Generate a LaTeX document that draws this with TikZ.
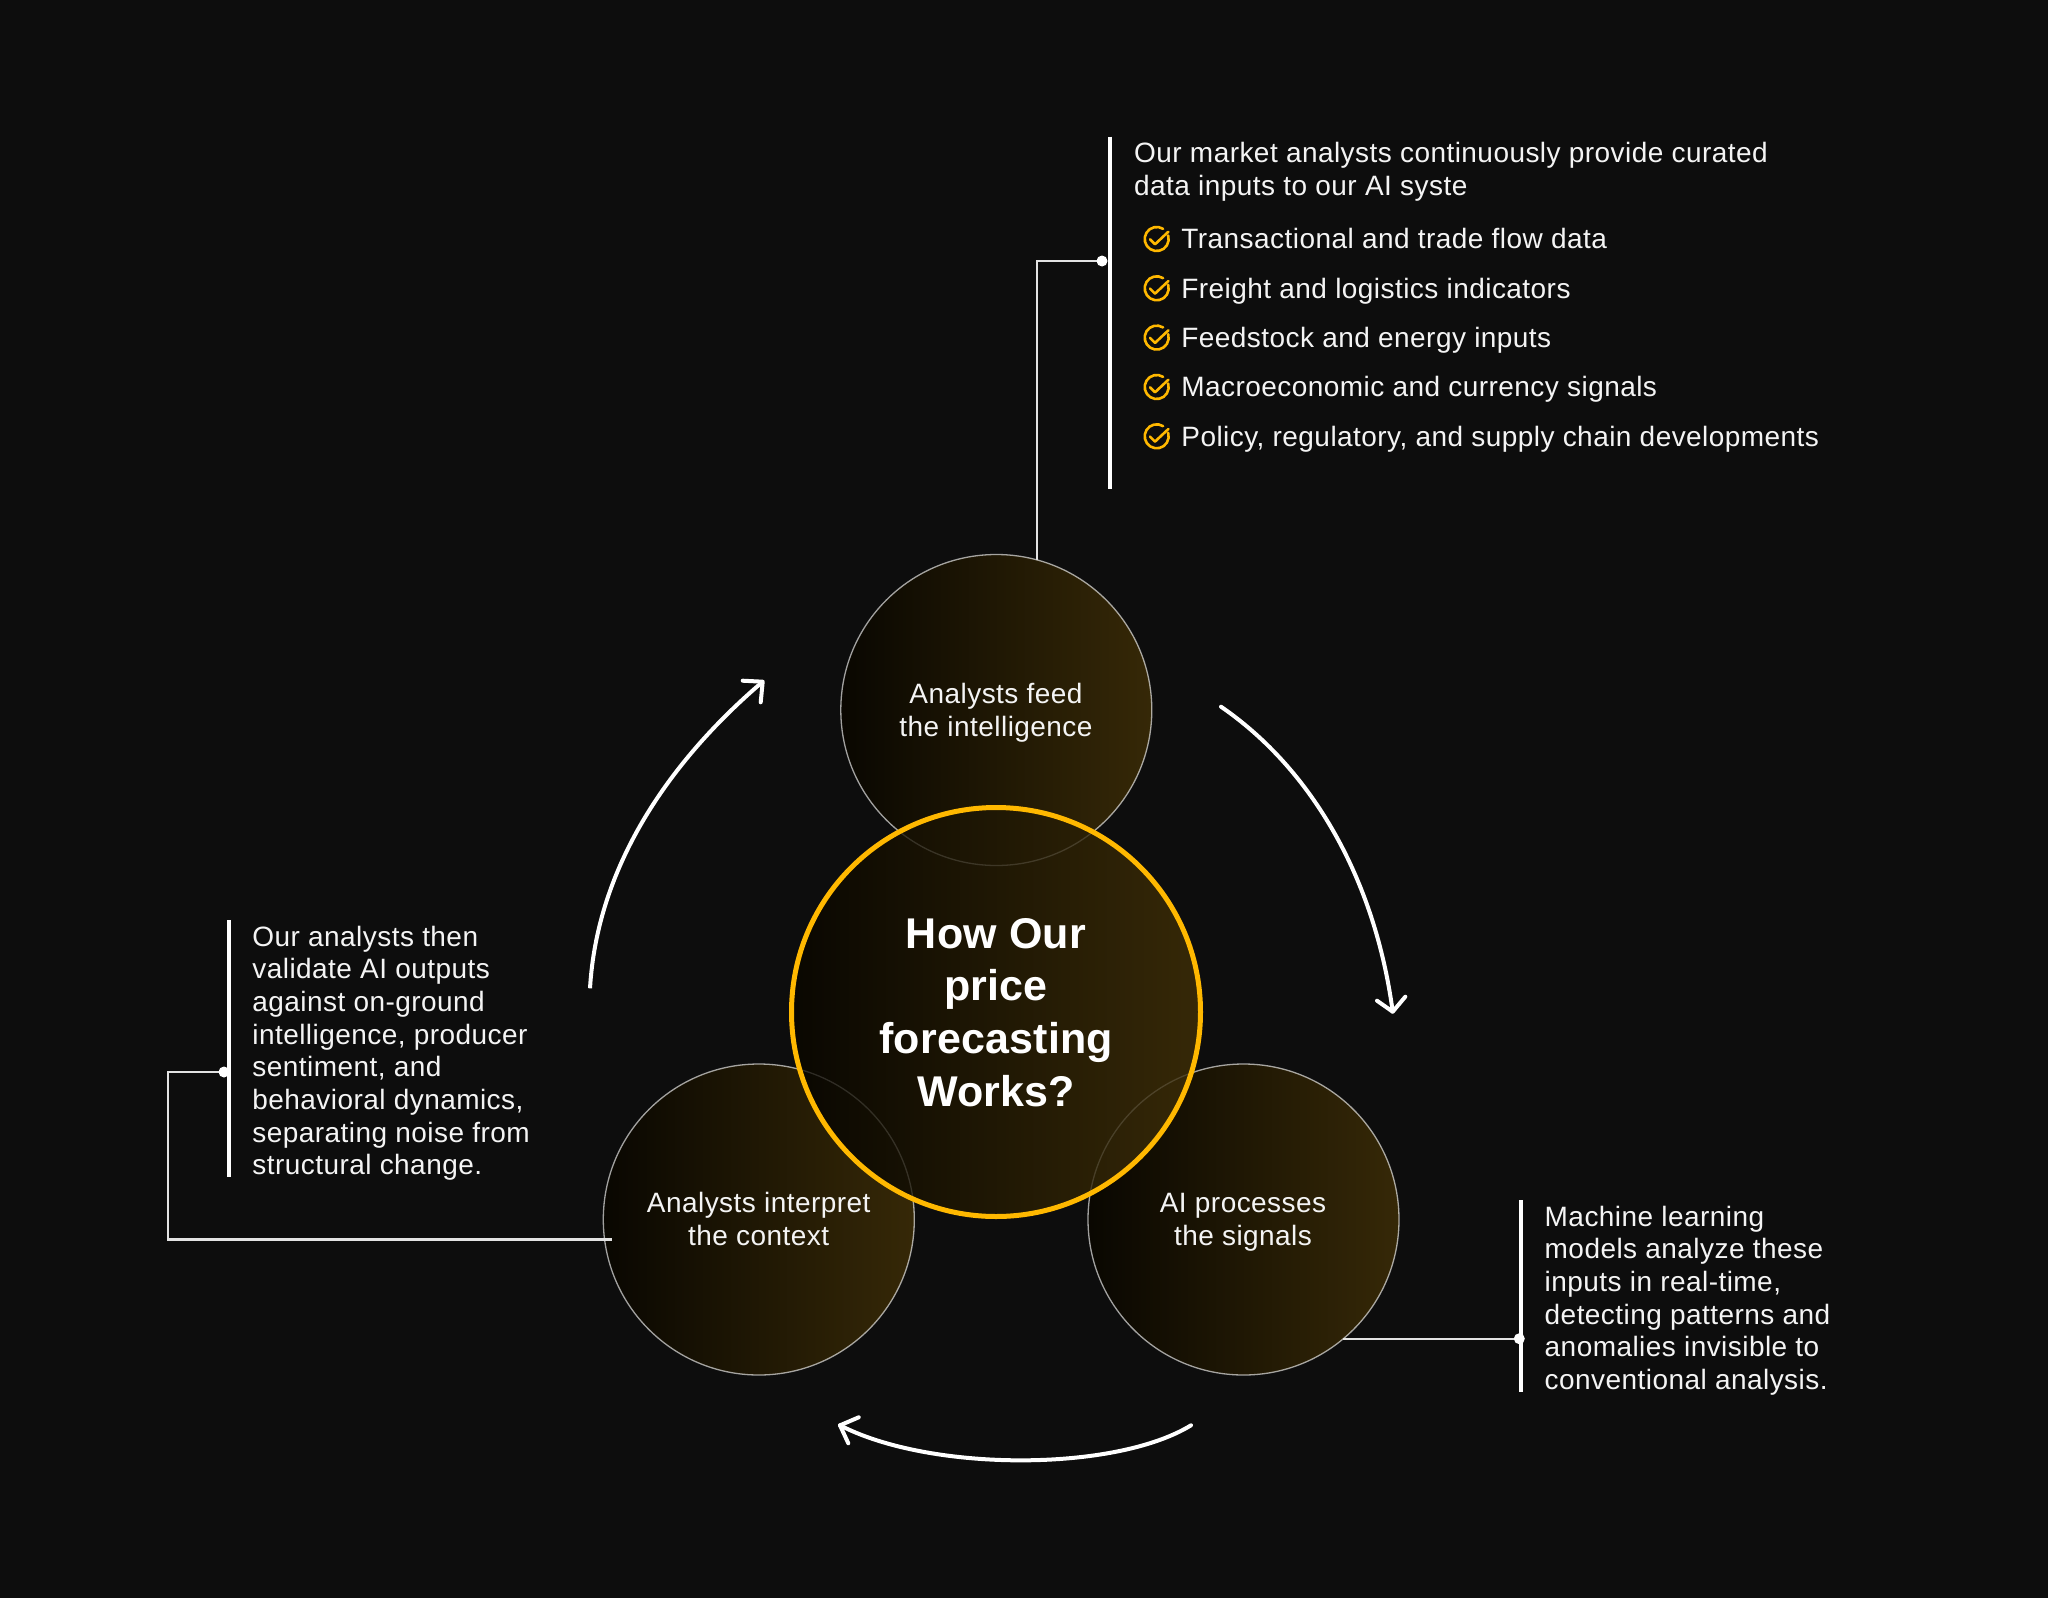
\documentclass[tikz,border=0pt]{standalone}
\usepackage{fontspec}
\setmainfont[LetterSpace=1.6]{Liberation Sans}
\newfontfamily\headfont[LetterSpace=0.5]{Liberation Sans}
\definecolor{bgc}{HTML}{0D0D0D}
\definecolor{gold}{HTML}{FFB800}
\definecolor{golddark}{HTML}{3F2F08}
\definecolor{ink}{HTML}{F4F4F4}
\definecolor{thin}{HTML}{E2E2E2}
\pgfdeclarehorizontalshading{satgrad}{100bp}{color(0bp)=(black); color(14.6bp)=(black); color(85.4bp)=(golddark); color(100bp)=(golddark)}
\newcommand{\bodysize}{\fontsize{28}{32.7}\selectfont}
\tikzset{
  x=1pt,y=-1pt,
  bar/.style={draw=white,line width=4pt},
  link/.style={draw=thin,line width=2.4pt},
  tdot/.style={circle,fill=white,inner sep=0pt,minimum size=11pt},
  loop/.style={draw=white,line width=4pt,line cap=round,line join=round},
  sat/.style={shade,shading=satgrad,draw=white,draw opacity=.62,line width=1.3pt},
  satlabel/.style={text=ink,anchor=base,font=\bodysize,inner sep=0pt},
  desc/.style={text=ink,anchor=base west,font=\bodysize,inner sep=0pt},
  chk/.style={draw=gold,line width=2.6pt,line cap=round,line join=round},
  rim/.style={draw=white,draw opacity=.14,line width=1.3pt},
}
\newcommand{\checkicon}[1]{%
  \begin{scope}[shift={(1156.7,#1)}]
    \draw[chk] (6.36,-10.18) arc[start angle=-58,end angle=-377,radius=12];
    \draw[chk] (-6.7,0.3) -- (-1.7,5.3) -- (11.7,-7.3);
  \end{scope}}
\begin{document}
\begin{tikzpicture}
\useasboundingbox (0,0) rectangle (2048,1598);
\fill[bgc] (0,0) rectangle (2048,1598);
\coordinate (tdotc) at (1102,261);
\coordinate (ldotc) at (224,1072);
\coordinate (rdotc) at (1519.3,1338.7);
% satellites
\node[circle,minimum size=311pt,inner sep=0pt,sat] (top) at (996.3,710) {};
\node[circle,minimum size=311pt,inner sep=0pt,sat] (left) at (758.8,1219.5) {};
\node[circle,minimum size=311pt,inner sep=0pt,sat] (right) at (1243.5,1219.5) {};
\draw[link] (tdotc) -- (1036.7,261) -- (1036.7,559.5);
\draw[link] (ldotc) -- (167.7,1072) -- (167.7,1239.3) -- (612,1239.3);
\draw[link] (1342.7,1338.7) -- (rdotc);
% centre
\path[shade,shading=satgrad] (996,1012) circle[radius=204.5];
\begin{scope}
  \clip (996,1012) circle[radius=204.5];
  \draw[rim] (996.3,710) circle[radius=155.5];
  \draw[rim] (758.8,1219.5) circle[radius=155.5];
  \draw[rim] (1243.5,1219.5) circle[radius=155.5];
\end{scope}
\node[circle,minimum size=409pt,inner sep=0pt,draw=gold,line width=5pt] (hub) at (996,1012) {};
\node[text=white,anchor=base,inner sep=0pt,font={\headfont\bfseries\fontsize{43}{52.6}\selectfont}] (hubt) at (996,948.3) {\begin{tabular}[t]{@{}c@{}}How Our\\price\\forecasting\\Works?\end{tabular}};
% labels
\node[satlabel] (topl) at (996,703.7) {\begin{tabular}[t]{@{}c@{}}Analysts feed\\the intelligence\end{tabular}};
\node[satlabel] (leftl) at (758.7,1212.7) {\begin{tabular}[t]{@{}c@{}}Analysts interpret\\the context\end{tabular}};
\node[satlabel] (rightl) at (1243,1212.7) {\begin{tabular}[t]{@{}c@{}}AI processes\\the signals\end{tabular}};
% bars
\draw[bar] (1110,136.7) -- (1110,488.5);
\draw[bar] (228.7,920) -- (228.7,1176.7);
\draw[bar] (1521,1200) -- (1521,1392.3);
\node[tdot] (td) at (tdotc) {};
\node[tdot] (ld) at (ldotc) {};
\node[tdot] (rd) at (rdotc) {};
% text top
\node[desc] (t1) at (1134,162.7) {\begin{tabular}[t]{@{}l@{}}Our market analysts continuously provide curated\\data inputs to our AI syste\end{tabular}};
\node[desc] (li1) at (1181.2,248.8) {Transactional and trade flow data};
\node[desc] (li2) at (1181.2,298.1) {Freight and logistics indicators};
\node[desc] (li3) at (1181.2,347.5) {Feedstock and energy inputs};
\node[desc] (li4) at (1181.2,396.8) {Macroeconomic and currency signals};
\node[desc] (li5) at (1181.2,446.1) {Policy, regulatory, and supply chain developments};
\checkicon{239}\checkicon{288.3}\checkicon{337.6}\checkicon{387}\checkicon{436.3}
\node[desc] (lt) at (252.2,946) {\begin{tabular}[t]{@{}l@{}}Our analysts then\\validate AI outputs\\against on-ground\\intelligence, producer\\sentiment, and\\behavioral dynamics,\\separating noise from\\structural change.\end{tabular}};
\node[desc] (rt) at (1544.5,1226) {\begin{tabular}[t]{@{}l@{}}Machine learning\\models analyze these\\inputs in real-time,\\detecting patterns and\\anomalies invisible to\\conventional analysis.\end{tabular}};
% loop arrows
\draw[loop] (1221,706.7) .. controls (1313,770) and (1375,880) .. (1392.7,1011.7);
\draw[loop] (1377,1000.7) -- (1392.7,1011.7) -- (1405.3,996.7);
\draw[loop] (1191,1425.3) .. controls (1115,1472) and (930,1472) .. (840,1425.3);
\draw[loop] (858.7,1417.3) -- (840,1425.3) -- (848.3,1443.3);
\draw[loop,line cap=butt] (590,988.3) .. controls (597,870) and (665,765) .. (762.7,681.7);
\draw[loop] (742.7,680.7) -- (762.7,681.7) -- (760.7,702.3);
\end{tikzpicture}
\end{document}
